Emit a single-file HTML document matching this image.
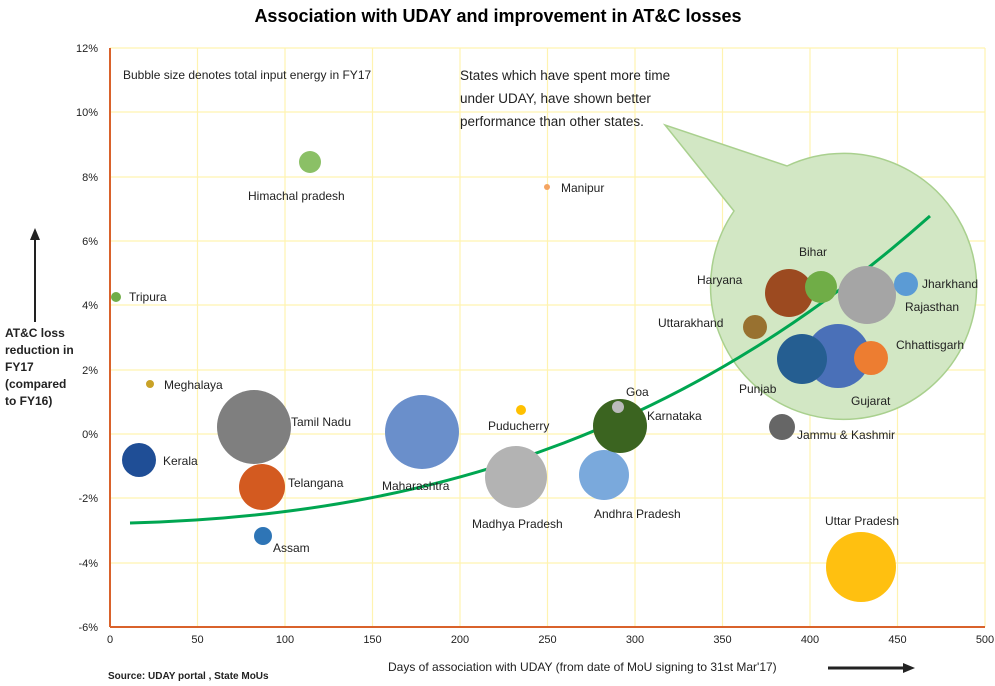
<!DOCTYPE html>
<html><head><meta charset="utf-8"><style>
body{margin:0;background:#fff;}
svg text{font-family:"Liberation Sans",sans-serif;fill:#222;}
</style></head><body>
<svg width="995" height="681" viewBox="0 0 995 681" xmlns="http://www.w3.org/2000/svg">
<text x="498" y="22" text-anchor="middle" font-size="18" font-weight="bold" style="fill:#000">Association with UDAY and improvement in AT&amp;C losses</text>
<g stroke="#fff3b0" stroke-width="1.2">
<line x1="110" y1="48" x2="985" y2="48"/><line x1="110" y1="112" x2="985" y2="112"/><line x1="110" y1="177" x2="985" y2="177"/><line x1="110" y1="241" x2="985" y2="241"/><line x1="110" y1="305" x2="985" y2="305"/><line x1="110" y1="370" x2="985" y2="370"/><line x1="110" y1="434" x2="985" y2="434"/><line x1="110" y1="498" x2="985" y2="498"/><line x1="110" y1="563" x2="985" y2="563"/>
<line x1="197.5" y1="48" x2="197.5" y2="627"/><line x1="285" y1="48" x2="285" y2="627"/><line x1="372.5" y1="48" x2="372.5" y2="627"/><line x1="460" y1="48" x2="460" y2="627"/><line x1="547.5" y1="48" x2="547.5" y2="627"/><line x1="635" y1="48" x2="635" y2="627"/><line x1="722.5" y1="48" x2="722.5" y2="627"/><line x1="810" y1="48" x2="810" y2="627"/><line x1="897.5" y1="48" x2="897.5" y2="627"/><line x1="985" y1="48" x2="985" y2="627"/>
</g>
<line x1="110" y1="48" x2="110" y2="627" stroke="#d9622b" stroke-width="2"/>
<line x1="110" y1="627" x2="985" y2="627" stroke="#d9622b" stroke-width="2"/>
<g font-size="11" text-anchor="end">
<text x="98" y="52">12%</text><text x="98" y="116">10%</text><text x="98" y="181">8%</text><text x="98" y="245">6%</text><text x="98" y="309">4%</text><text x="98" y="374">2%</text><text x="98" y="438">0%</text><text x="98" y="502">-2%</text><text x="98" y="567">-4%</text><text x="98" y="631">-6%</text>
</g>
<g font-size="11" text-anchor="middle">
<text x="110" y="643">0</text><text x="197.5" y="643">50</text><text x="285" y="643">100</text><text x="372.5" y="643">150</text><text x="460" y="643">200</text><text x="547.5" y="643">250</text><text x="635" y="643">300</text><text x="722.5" y="643">350</text><text x="810" y="643">400</text><text x="897.5" y="643">450</text><text x="985" y="643">500</text>
</g>
<text x="108" y="679" font-size="10" font-weight="bold">Source: UDAY portal , State MoUs</text>
<text x="388" y="671" font-size="12">Days of association with UDAY (from date of MoU signing to 31st Mar'17)</text>
<line x1="828" y1="668" x2="905" y2="668" stroke="#222" stroke-width="3"/><polygon points="903,663 915,668 903,673" fill="#222"/>
<line x1="35" y1="322" x2="35" y2="238" stroke="#222" stroke-width="2"/><polygon points="30,240 35,228 40,240" fill="#222"/>
<g font-size="12" font-weight="bold"><text x="5" y="337">AT&amp;C loss</text><text x="5" y="354">reduction in</text><text x="5" y="371">FY17</text><text x="5" y="388">(compared</text><text x="5" y="405">to FY16)</text></g>
<text x="123" y="79" font-size="12">Bubble size denotes total input energy in FY17</text>
<path d="M734,211 L665,125 L787,166 A133,133 0 1 1 734,211 Z" fill="#d2e7c4" stroke="#a9d08e" stroke-width="1.5"/>
<g font-size="13.5"><text x="460" y="80">States which have spent more time</text><text x="460" y="103">under UDAY, have shown better</text><text x="460" y="126">performance than other states.</text></g>
<path d="M130,523 C450,515 700,420 930,216" fill="none" stroke="#00a651" stroke-width="3"/>
<g>
<circle cx="116" cy="297" r="5" fill="#70ad47"/>
<circle cx="150" cy="384" r="4" fill="#c9a227"/>
<circle cx="139" cy="460" r="17" fill="#1f4e96"/>
<circle cx="254" cy="427" r="37" fill="#7f7f7f"/>
<circle cx="262" cy="487" r="23" fill="#d35a20"/>
<circle cx="263" cy="536" r="9" fill="#2e75b6"/>
<circle cx="310" cy="162" r="11" fill="#8bc066"/>
<circle cx="422" cy="432" r="37" fill="#6a8fcb"/>
<circle cx="547" cy="187" r="3" fill="#f4a460"/>
<circle cx="521" cy="410" r="5" fill="#ffc000"/>
<circle cx="516" cy="477" r="31" fill="#b3b3b3"/>
<circle cx="604" cy="475" r="25" fill="#7aa9dc"/>
<circle cx="620" cy="426" r="27" fill="#3b6420"/>
<circle cx="618" cy="407" r="6" fill="#bbb"/>
<circle cx="789" cy="293" r="24" fill="#9c4a20"/>
<circle cx="821" cy="287" r="16" fill="#70ad47"/>
<circle cx="867" cy="295" r="29" fill="#a5a5a5"/>
<circle cx="906" cy="284" r="12" fill="#5b9bd5"/>
<circle cx="755" cy="327" r="12" fill="#987130"/>
<circle cx="838" cy="356" r="32" fill="#4a70b8"/>
<circle cx="802" cy="359" r="25" fill="#255e91"/>
<circle cx="871" cy="358" r="17" fill="#ed7d31"/>
<circle cx="782" cy="427" r="13" fill="#666"/>
<circle cx="861" cy="567" r="35" fill="#ffc010"/>
</g>
<g font-size="12">
<text x="129" y="301">Tripura</text><text x="164" y="389">Meghalaya</text><text x="163" y="465">Kerala</text>
<text x="291" y="426">Tamil Nadu</text><text x="288" y="487">Telangana</text><text x="273" y="552">Assam</text>
<text x="248" y="200">Himachal pradesh</text><text x="382" y="490">Maharashtra</text><text x="561" y="192">Manipur</text>
<text x="488" y="430">Puducherry</text><text x="472" y="528">Madhya Pradesh</text><text x="594" y="518">Andhra Pradesh</text>
<text x="626" y="396">Goa</text><text x="647" y="420">Karnataka</text>
<text x="697" y="284">Haryana</text><text x="799" y="256">Bihar</text><text x="922" y="288">Jharkhand</text><text x="905" y="311">Rajasthan</text>
<text x="658" y="327">Uttarakhand</text><text x="896" y="349">Chhattisgarh</text><text x="739" y="393">Punjab</text><text x="851" y="405">Gujarat</text>
<text x="797" y="439">Jammu &amp; Kashmir</text><text x="825" y="525">Uttar Pradesh</text>
</g>
</svg>
</body></html>
